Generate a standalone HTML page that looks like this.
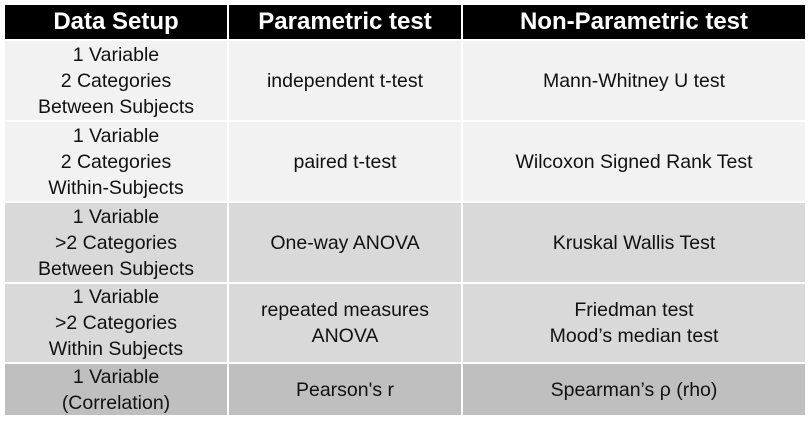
<!DOCTYPE html>
<html><head><style>
body{margin:0;background:#fff;width:810px;height:421px;overflow:hidden;font-family:"Liberation Sans",sans-serif;}
.c{position:absolute;display:flex;align-items:center;justify-content:center;text-align:center;font-size:19.5px;line-height:26px;color:#111;box-sizing:border-box;}
.h{background:#000;color:#fff;font-weight:bold;font-size:24px;}
</style></head><body>
<div class="c h" style="left:5px;top:5px;width:222px;height:34px;">Data Setup</div>
<div class="c h" style="left:229px;top:5px;width:232px;height:34px;">Parametric test</div>
<div class="c h" style="left:463px;top:5px;width:342px;height:34px;">Non-Parametric test</div>

<div class="c" style="left:5px;top:41px;width:222px;height:79px;background:#f2f2f2">1 Variable<br>2 Categories<br>Between Subjects</div>
<div class="c" style="left:229px;top:41px;width:232px;height:79px;background:#f2f2f2">independent t-test</div>
<div class="c" style="left:463px;top:41px;width:342px;height:79px;background:#f2f2f2">Mann-Whitney U test</div>

<div class="c" style="left:5px;top:122px;width:222px;height:79px;background:#f2f2f2">1 Variable<br>2 Categories<br>Within-Subjects</div>
<div class="c" style="left:229px;top:122px;width:232px;height:79px;background:#f2f2f2">paired t-test</div>
<div class="c" style="left:463px;top:122px;width:342px;height:79px;background:#f2f2f2">Wilcoxon Signed Rank Test</div>

<div class="c" style="left:5px;top:203px;width:222px;height:79px;background:#d9d9d9">1 Variable<br>&gt;2 Categories<br>Between Subjects</div>
<div class="c" style="left:229px;top:203px;width:232px;height:79px;background:#d9d9d9">One-way ANOVA</div>
<div class="c" style="left:463px;top:203px;width:342px;height:79px;background:#d9d9d9">Kruskal Wallis Test</div>

<div class="c" style="left:5px;top:284px;width:222px;height:78px;background:#d9d9d9">1 Variable<br>&gt;2 Categories<br>Within Subjects</div>
<div class="c" style="left:229px;top:284px;width:232px;height:78px;background:#d9d9d9">repeated measures<br>ANOVA</div>
<div class="c" style="left:463px;top:284px;width:342px;height:78px;background:#d9d9d9">Friedman test<br>Mood’s median test</div>

<div class="c" style="left:5px;top:364px;width:222px;height:51px;background:#bfbfbf">1 Variable<br>(Correlation)</div>
<div class="c" style="left:229px;top:364px;width:232px;height:51px;background:#bfbfbf">Pearson's r</div>
<div class="c" style="left:463px;top:364px;width:342px;height:51px;background:#bfbfbf">Spearman’s ρ (rho)</div>
</body></html>
